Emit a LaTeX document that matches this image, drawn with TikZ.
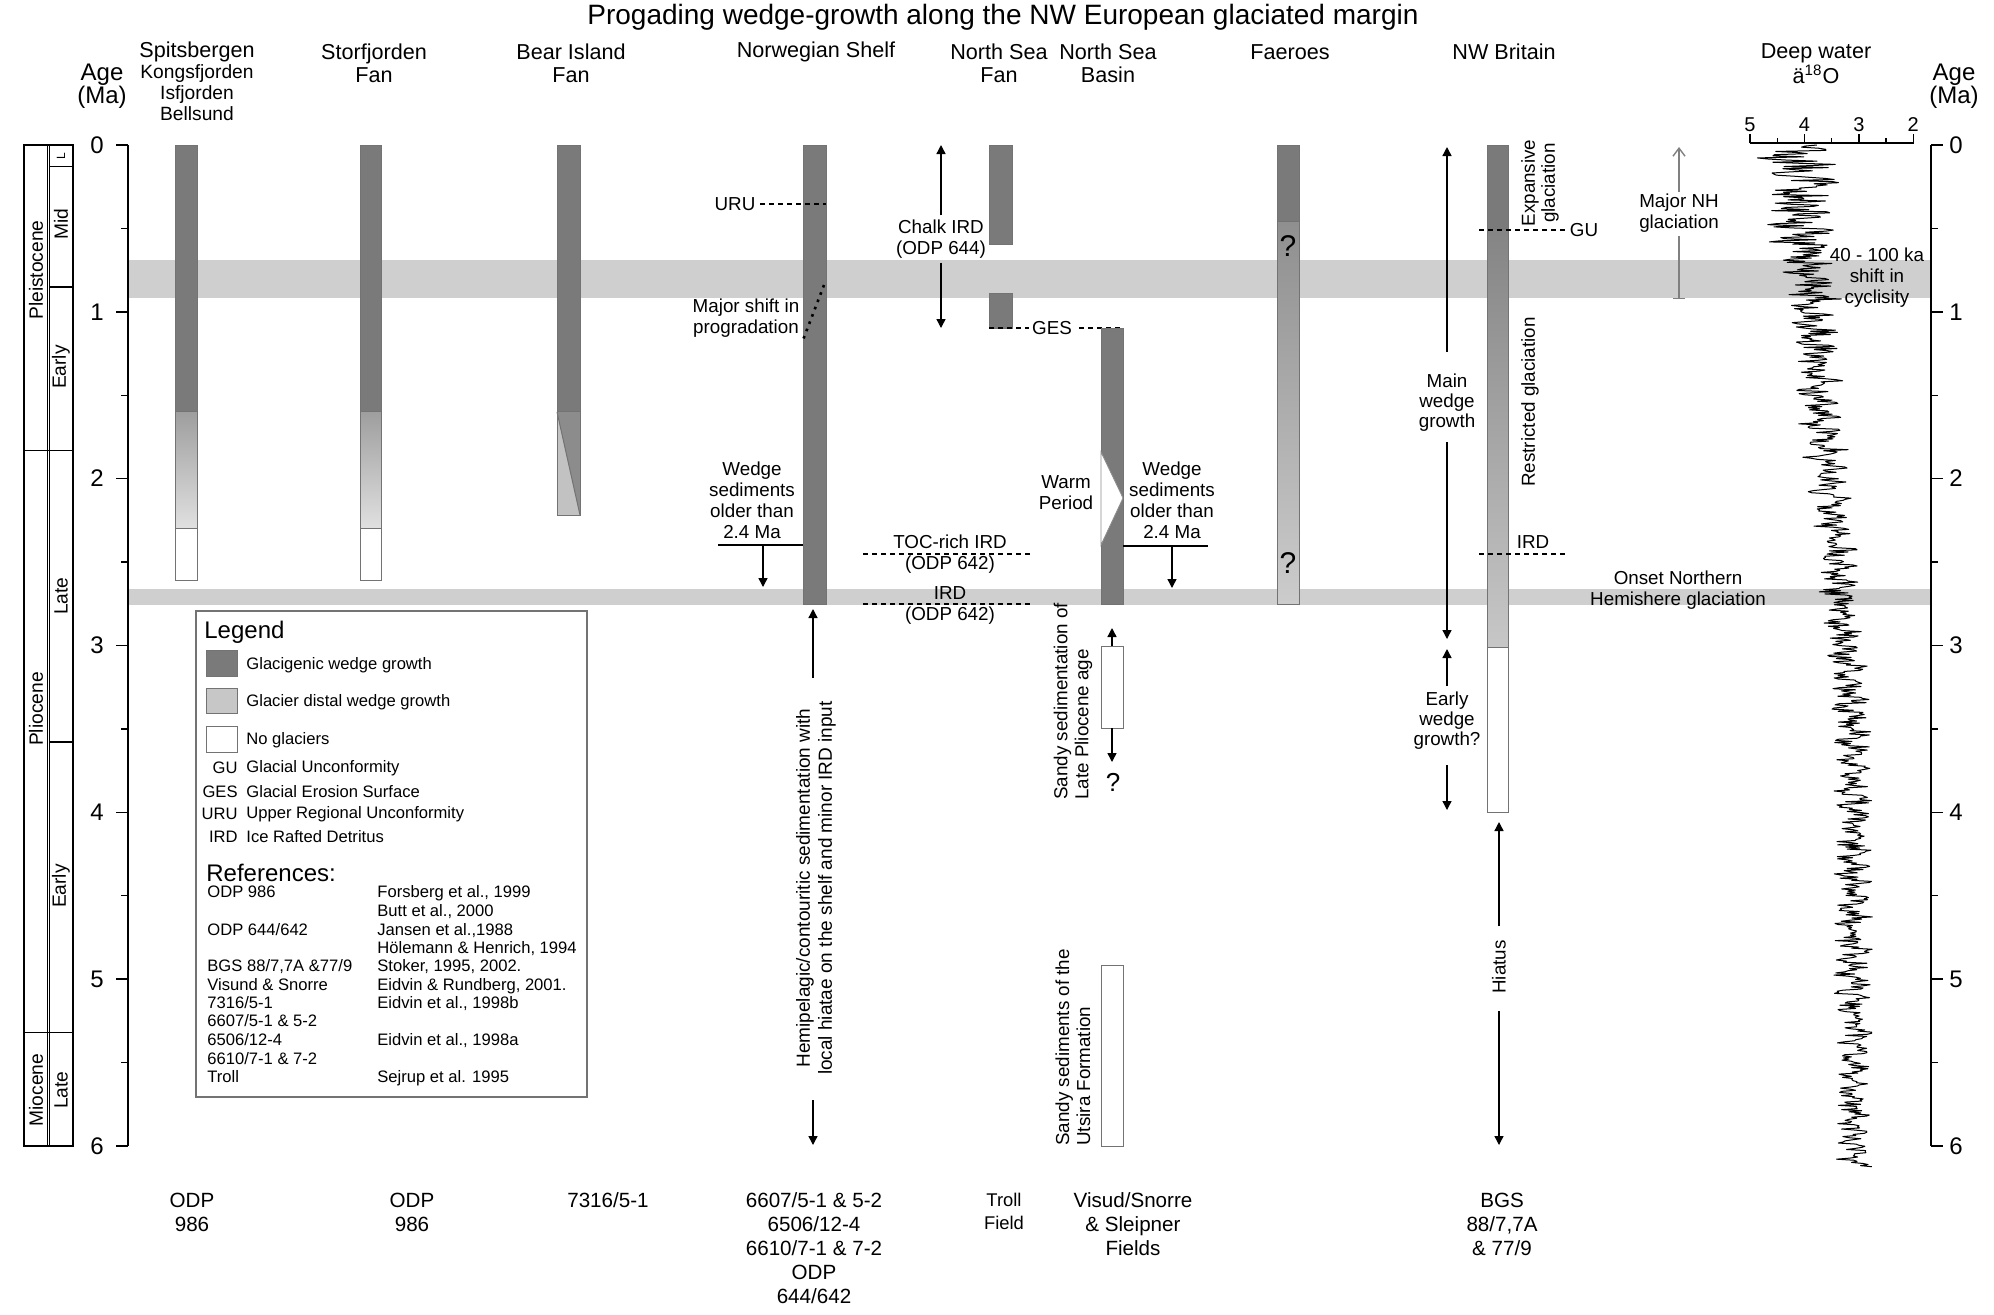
\documentclass[tikz,border=0pt]{standalone}
\usepackage{fontspec}
\setmainfont{Liberation Sans}
\usetikzlibrary{arrows.meta}
\newcommand\ay[1]{145+166.8*(#1)}
\begin{document}
\begin{tikzpicture}[x=0.5pt,y=-0.5pt,
  txt/.style={inner sep=0pt, align=center, font=\fontsize{9.4}{10.5}\selectfont},
  hdr/.style={inner sep=0pt, align=center, font=\fontsize{10.8}{11.5}\selectfont},
  sml/.style={inner sep=0pt, font=\fontsize{8.3}{9}\selectfont},
  big/.style={inner sep=0pt, font=\fontsize{12}{12}\selectfont},
  axl/.style={inner sep=0pt, font=\fontsize{12}{12}\selectfont},
  geo/.style={inner sep=0pt, rotate=90, font=\fontsize{9.6}{10}\selectfont},
  qm/.style={inner sep=0pt, font=\fontsize{15}{15}\selectfont},
  colframe/.style={draw=black!55, line width=0.5pt},
  darkc/.style={fill=black!52},
  band/.style={fill=black!19},
  arr/.style={line width=0.7pt, -{Triangle[length=4.5pt,width=4.5pt]}},
  dline/.style={line width=1pt, dash pattern=on 2.5pt off 2pt},
  dotl/.style={line width=1.3pt, dash pattern=on 1.3pt off 2.6pt},
  ln/.style={line width=0.7pt}]
\useasboundingbox (0,0) rectangle (1994,1314);
\fill[white] (0,0) rectangle (1994,1314);
% title
\node[font=\fontsize{14}{16}\selectfont, anchor=base, inner sep=0pt] (title) at (1003,24) {Progading wedge-growth along the NW European glaciated margin};
% bands
\fill[band] (128,260) rectangle (1931,298);
\fill[band] (128,589) rectangle (1931,605);
% time scale
\draw[ln] (24,145) rectangle (73,1146);
\draw[ln] (47.5,145) -- (47.5,1146) (49.5,145) -- (49.5,1146);
\draw[ln] (24,450.2) -- (73,450.2) (24,1032.4) -- (73,1032.4);
\draw[ln] (49.5,166.7) -- (73,166.7) (49.5,286.8) -- (73,286.8) (49.5,742.1) -- (73,742.1);
\node[geo] (pleist) at (36,270) {Pleistocene};
\node[geo] (plio) at (36,709) {Pliocene};
\node[geo] (mio) at (36,1090) {Miocene};
\node[geo, font=\fontsize{6}{6}\selectfont] (lq) at (61,156) {L};
\node[geo] (midq) at (61,224) {Mid};
\node[geo] (earlyq) at (61,367) {Early};
\node[geo] (latep) at (61,596) {Late};
\node[geo] (earlyp) at (61,886) {Early};
\node[geo] (latem) at (61,1090) {Late};
% left age axis
\node[axl, align=center, font=\fontsize{12}{11.5}\selectfont] (ageL) at (102,86) {Age\\(Ma)};
\draw[ln] (128,145) -- (128,1146);
\foreach \i in {0,...,6} {
  \draw[ln] (116,{\ay{\i}}) -- (128,{\ay{\i}});
  \node[axl] (la\i) at (97,{\ay{\i}}) {\i};
  \draw[ln] (1931,{\ay{\i}}) -- (1943,{\ay{\i}});
  \node[axl] (ra\i) at (1956,{\ay{\i}}) {\i};
}
\foreach \i in {0.5,1.5,2.5,3.5,4.5,5.5} {
  \draw[ln] (121,{\ay{\i}}) -- (128,{\ay{\i}});
  \draw[ln] (1931,{\ay{\i}}) -- (1938,{\ay{\i}});
}
\draw[ln] (1931,145) -- (1931,1146);
\node[axl, align=center, font=\fontsize{12}{11.5}\selectfont] (ageR) at (1954,86) {Age\\(Ma)};
% headers
\node[hdr] (h1) at (197,52) {Spitsbergen};
\node[hdr, font=\fontsize{9.6}{10.5}\selectfont] (h1b) at (197,93) {Kongsfjorden\\Isfjorden\\Bellsund};
\node[hdr] (h2) at (374,63) {Storfjorden\\Fan};
\node[hdr] (h3) at (571,63) {Bear Island\\Fan};
\node[hdr] (h4) at (816,52) {Norwegian Shelf};
\node[hdr] (h5) at (999,63) {North Sea\\Fan};
\node[hdr] (h6) at (1108,63) {North Sea\\Basin};
\node[hdr] (h7) at (1290,52) {Faeroes};
\node[hdr] (h8) at (1504,52) {NW Britain};
\node[hdr, font=\fontsize{10.8}{10}\selectfont] (h9) at (1816,64) {Deep water\\ä\textsuperscript{18}O};
% Spitsbergen
\fill[darkc] (175,145) rectangle (197,411.9);
\shade[top color=black!38, bottom color=black!12] (175,411.9) rectangle (197,528.6);
\draw[colframe] (175,145) rectangle (197,580);
\draw[colframe] (175,411.9) -- (197,411.9) (175,528.6) -- (197,528.6);
% Storfjorden
\fill[darkc] (360,145) rectangle (381,411.9);
\shade[top color=black!38, bottom color=black!12] (360,411.9) rectangle (381,528.6);
\draw[colframe] (360,145) rectangle (381,580);
\draw[colframe] (360,411.9) -- (381,411.9) (360,528.6) -- (381,528.6);
% Bear Island
\fill[darkc] (557,145) rectangle (580,411.9);
\fill[black!24] (557,411.9) rectangle (580,515);
\fill[black!45] (557,411.9) -- (580,411.9) -- (580,515) -- cycle;
\draw[colframe] (557,411.9) -- (580,515);
\draw[colframe] (557,145) rectangle (580,515);
\draw[colframe] (557,411.9) -- (580,411.9);
% Norwegian Shelf
\fill[darkc] (803,145) rectangle (826,604);
\draw[colframe] (803,145) rectangle (826,604);
\draw[dline] (760,204) -- (826,204);
\node[txt] (uru) at (735,204) {URU};
\draw[dotl] (824,285) -- (803,340);
\node[txt] (shift) at (746,318) {Major shift in\\progradation};
\node[txt] (wedgeL) at (752,500) {Wedge\\sediments\\older than\\2.4 Ma};
\draw[ln] (718,545) -- (803,545);
\coordinate (wlA) at (763,545); \coordinate (wlB) at (763,587);
\draw[arr] (wlA) -- (wlB);
% Hemipelagic
\coordinate (hpT) at (813,609); \coordinate (hpA) at (813,678);
\coordinate (hpB) at (813,1100); \coordinate (hpD) at (813,1145);
\draw[arr] (hpA) -- (hpT);
\draw[arr] (hpB) -- (hpD);
\node[txt, rotate=90, font=\fontsize{9.5}{11}\selectfont] (hemi) at (816,888) {Hemipelagic/contouritic sedimentation with\\local hiatae on the shelf and minor IRD input};
% Chalk IRD
\node[txt] (chalk) at (941,239) {Chalk IRD\\(ODP 644)};
\coordinate (chT) at (941,145); \coordinate (chB) at (941,328);
\draw[arr] (chalk.north) ++(0,-4) -- (chT);
\draw[arr] (chalk.south) ++(0,4) -- (chB);
% TOC-rich IRD
\draw[dline] (863,554) -- (1030,554);
\node[txt] (toc) at (950,554) {TOC-rich IRD\\(ODP 642)};
\draw[dline] (863,604) -- (1030,604);
\node[txt] (ird642) at (950,605) {IRD\\(ODP 642)};
% North Sea Fan
\fill[darkc] (989,145) rectangle (1012,244);
\draw[colframe] (989,145) rectangle (1012,244);
\fill[darkc] (989,293) rectangle (1012,328);
\draw[colframe] (989,293) rectangle (1012,328);
\draw[dline] (989,328) -- (1123,328);
\node[txt, fill=white, inner sep=1.5pt] (ges) at (1052,328) {GES};
% North Sea Basin
\fill[darkc] (1101,328) rectangle (1123,604);
\draw[colframe] (1101,328) rectangle (1123,604);
\filldraw[fill=white, draw=black!45, line width=0.4pt] (1101,452) -- (1123,498) -- (1101,545) -- cycle;
\node[txt] (warm) at (1066,493) {Warm\\Period};
\node[txt] (wedgeR) at (1172,500) {Wedge\\sediments\\older than\\2.4 Ma};
\draw[ln] (1123,546) -- (1208,546);
\coordinate (wrA) at (1172,546); \coordinate (wrB) at (1172,588);
\draw[arr] (wrA) -- (wrB);
% Late Pliocene sandy box
\draw[colframe, fill=white] (1101,646) rectangle (1123,728);
\coordinate (spT) at (1112,628); \coordinate (spA) at (1112,646);
\coordinate (spB) at (1112,728); \coordinate (spD) at (1112,762);
\draw[arr] (spA) -- (spT);
\draw[arr] (spB) -- (spD);
\node[qm, font=\fontsize{13}{13}\selectfont] (q3) at (1113,782) {?};
\node[txt, rotate=90, anchor=west, align=left] (sandy1) at (1073,800) {Sandy sedimentation of\\Late Pliocene age};
% Utsira
\draw[colframe, fill=white] (1101,965) rectangle (1123,1146);
\node[txt, rotate=90, anchor=west, align=left] (sandy2) at (1073,1146) {Sandy sediments of the\\Utsira Formation};
% Faeroes
\fill[darkc] (1277,145) rectangle (1299,221);
\shade[top color=black!44, bottom color=black!20] (1277,221) rectangle (1299,604);
\draw[colframe] (1277,145) rectangle (1299,604);
\draw[colframe] (1277,221) -- (1299,221);
\node[qm] (q1) at (1288,246) {?};
\node[qm] (q2) at (1288,563) {?};
% NW Britain
\fill[darkc] (1487,145) rectangle (1508,230);
\shade[top color=black!48, bottom color=black!22] (1487,230) rectangle (1508,647);
\fill[white] (1487,647) rectangle (1508,812);
\draw[colframe] (1487,145) rectangle (1508,812);
\draw[colframe] (1487,647) -- (1508,647);
\draw[dline] (1479,230) -- (1566,230);
\node[txt] (gu) at (1584,230) {GU};
\node[txt, rotate=90, font=\fontsize{9.4}{10}\selectfont] (expans) at (1540,183) {Expansive\\glaciation};
\node[txt, rotate=90] (restr) at (1530,402) {Restricted glaciation};
\draw[dline] (1479,554) -- (1566,554);
\node[txt] (irdB) at (1533,542) {IRD};
% Main wedge growth
\node[txt, font=\fontsize{9.4}{10}\selectfont] (mainw) at (1447,403) {Main\\wedge\\growth};
\coordinate (mwT) at (1447,147); \coordinate (mwB) at (1447,639);
\draw[arr] (1447,352) -- (mwT);
\draw[arr] (1447,442) -- (mwB);
\node[txt, font=\fontsize{9.4}{10}\selectfont] (earlyw) at (1447,721) {Early\\wedge\\growth?};
\coordinate (ewT) at (1447,649); \coordinate (ewB) at (1447,810);
\draw[arr] (1447,686) -- (ewT);
\draw[arr] (1447,765) -- (ewB);
\node[txt, rotate=90] (hiatus) at (1499,967) {Hiatus};
\coordinate (hiT) at (1499,822); \coordinate (hiB) at (1499,1145);
\draw[arr] (1499,926) -- (hiT);
\draw[arr] (1499,1011) -- (hiB);
% Major NH glaciation
\node[txt] (majnh) at (1679,213) {Major NH\\glaciation};
\coordinate (nhT) at (1679,147); \coordinate (nhB) at (1679,299);
\draw[black!50, line width=0.7pt, -{Straight Barb[length=4pt,width=6pt]}] (1679,192) -- (nhT);
\draw[black!50, line width=0.7pt, -{Bar[width=6pt]}] (1679,236) -- (nhB);
% delta 18O axis
\draw[ln] (1750,143) -- (1914,143);
\foreach \d/\l in {5/5,4/4,3/3,2/2} {
  \draw[ln] ({1750+(5-\d)*54.4},143) -- ({1750+(5-\d)*54.4},134);
  \node[inner sep=0pt, font=\fontsize{10}{10}\selectfont] (dx\l) at ({1750+(5-\d)*54.4},125) {\l};
}
\foreach \d in {4.5,3.5,2.5} {
  \draw[ln] ({1750+(5-\d)*54.4},143) -- ({1750+(5-\d)*54.4},138);
}
\pgfmathsetseed{4242}
\draw[line width=0.5pt, line join=round] plot[domain=0:6.13, samples=950, variable=\a]
  ({1752+(5-max(3.15,4.2-0.3*\a))*54.4 + (19+30*exp(-\a/0.9))*(0.35*sin(360*frac(10*\a))+0.7*rand)}, {\ay{\a}});
\node[txt] (cyc) at (1877,278) {40 - 100 ka\\shift in\\cyclisity};
\node[txt] (onset) at (1678,590) {Onset Northern\\Hemishere glaciation};
% Legend
\draw[black!55, line width=0.8pt] (196,611) rectangle (587,1097);
\node[big, anchor=west] (legt) at (204,632) {Legend};
\draw[colframe, fill=black!52] (206,650) rectangle (237,676);
\draw[colframe, fill=black!22] (206,688) rectangle (237,713);
\draw[colframe, fill=white] (206,726) rectangle (237,752);
\node[sml, anchor=west] (lg1) at (246,665) {Glacigenic wedge growth};
\node[sml, anchor=west] (lg2) at (246,702) {Glacier distal wedge growth};
\node[sml, anchor=west] (lg3) at (246,740) {No glaciers};
\node[sml, anchor=east] (ab1) at (238,768) {GU};
\node[sml, anchor=east] (ab2) at (238,792) {GES};
\node[sml, anchor=east] (ab3) at (238,814) {URU};
\node[sml, anchor=east] (ab4) at (238,837) {IRD};
\node[sml, anchor=west] (df1) at (246,768) {Glacial Unconformity};
\node[sml, anchor=west] (df2) at (246,792) {Glacial Erosion Surface};
\node[sml, anchor=west] (df3) at (246,814) {Upper Regional Unconformity};
\node[sml, anchor=west] (df4) at (246,837) {Ice Rafted Detritus};
\node[big, anchor=west] (reft) at (206,873) {References:};
\foreach \y/\l/\r [count=\k] in {894/ODP 986/{Forsberg et al., 1999}, 913/{}/{Butt et al., 2000}, 932/ODP 644\slash 642/{Jansen et al.,1988}, 950/{}/{Hölemann \& Henrich, 1994}, 968/{BGS 88\slash 7,7A \&77\slash 9}/{Stoker, 1995, 2002.}, 987/{Visund \& Snorre}/{Eidvin \& Rundberg, 2001.}, 1005/7316\slash 5-1/{Eidvin et al., 1998b}, 1023/{6607\slash 5-1 \& 5-2}/{}, 1042/6506\slash 12-4/{Eidvin et al., 1998a}, 1061/{6610\slash 7-1 \& 7-2}/{}, 1079/Troll/{Sejrup et al. 1995}} {
  \node[sml, anchor=west] (rl\k) at (207,\y) {\strut\l};
  \node[sml, anchor=west] (rr\k) at (377,\y) {\strut\r};
}
% bottom labels
\node[txt, font=\fontsize{10.3}{12}\selectfont] (b1) at (192,1212) {ODP\\986};
\node[txt, font=\fontsize{10.3}{12}\selectfont] (b2) at (412,1212) {ODP\\986};
\node[txt, font=\fontsize{10.3}{12}\selectfont] (b3) at (608,1200) {7316/5-1};
\node[txt, font=\fontsize{10.3}{12}\selectfont] (b4) at (814,1248) {6607/5-1 \& 5-2\\6506/12-4\\6610/7-1 \& 7-2\\ODP\\644/642};
\node[txt, font=\fontsize{9.2}{11.5}\selectfont] (b5) at (1004,1211) {Troll\\Field};
\node[txt, font=\fontsize{10.3}{12}\selectfont] (b6) at (1133,1224) {Visud/Snorre\\\& Sleipner\\Fields};
\node[txt, font=\fontsize{10.3}{12}\selectfont] (b7) at (1502,1224) {BGS\\88/7,7A\\\& 77/9};
\end{tikzpicture}
\end{document}
